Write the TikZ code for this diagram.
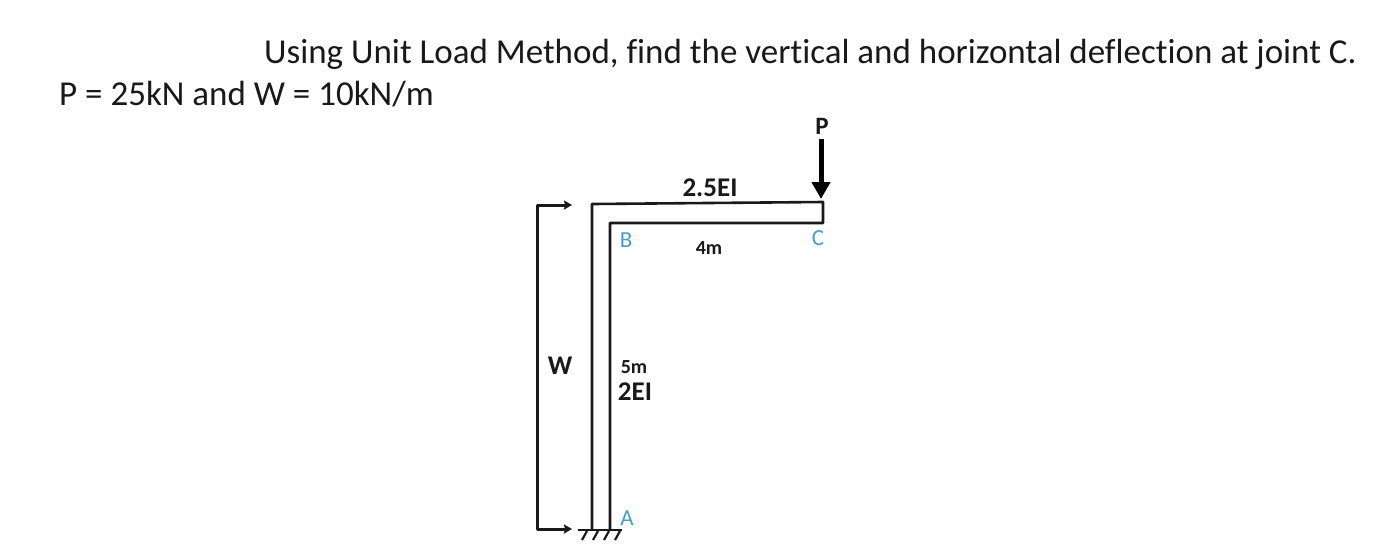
\documentclass[tikz,border=0pt]{standalone}
\usepackage{fontspec}
\setmainfont[Ligatures=CommonOff]{Carlito}
\usetikzlibrary{arrows.meta}
\definecolor{lbl}{RGB}{70,160,195}
\definecolor{ink}{RGB}{25,25,25}
\tikzset{
  frameline/.style={draw=ink,line width=2.6pt,line join=round},
  dimline/.style={draw=ink,line width=3pt,line join=round,{Stealth[length=8pt,width=9pt,inset=1pt]}-{Stealth[length=8pt,width=9pt,inset=1pt]}},
  loadarrow/.style={draw=black,line width=5pt,-{Triangle[length=17pt,width=18pt]},shorten >=0pt},
  hatch/.style={draw=ink,line width=2.2pt},
  prose/.style={inner sep=0pt,anchor=base west,font=\fontsize{35}{38}\selectfont,text=ink},
  joint/.style={inner sep=0pt,text=lbl,font=\fontsize{23}{25}\selectfont},
  boldlabel/.style={inner sep=0pt,text=ink,font=\bfseries\fontsize{27}{29}\selectfont},
  smalllabel/.style={inner sep=0pt,text=ink,font=\bfseries\fontsize{20}{22}\selectfont}
}
\begin{document}
\begin{tikzpicture}[x=1pt,y=-1pt]
\useasboundingbox (0,0) rectangle (1388,550);
\node[prose] (line1) at (264,63) {Using Unit Load Method, find the vertical and horizontal deflection at joint C.};
\node[prose] (line2) at (59,105) {P = 25kN and W = 10kN/m};
\coordinate (oa) at (592,530);
\coordinate (ob) at (592,204);
\coordinate (oc) at (823,202);
\coordinate (ic) at (823,223);
\coordinate (ib) at (610,223);
\coordinate (ia) at (610,530);
\draw[frameline] (oa) -- (ob) -- (oc) -- (ic) -- (ib) -- (ia);
\coordinate (bl) at (578,530);
\coordinate (br) at (622,530);
\draw[frameline] (bl) -- (br);
\foreach \x in {587,598,609,620}
  \draw[hatch] (\x,531) -- (\x-5,540);
\coordinate (t1) at (572,205);
\coordinate (t0) at (537,205);
\coordinate (b0) at (537,529);
\coordinate (b1) at (572,529);
\draw[dimline] (t1) -- (t0) -- (b0) -- (b1);
\node[boldlabel,font=\bfseries\fontsize{25}{27}\selectfont] (p) at (822,126) {P};
\coordinate (ps) at (821,139);
\coordinate (pe) at (821,199);
\draw[loadarrow] (ps) -- (pe);
\node[boldlabel] (ei25) at (710,188) {2.5EI};
\node[smalllabel] (m4) at (709,248) {4m};
\node[joint] (B) at (626,240) {B};
\node[joint] (C) at (818,238) {C};
\node[joint] (A) at (627,518) {A};
\node[boldlabel] (W) at (560,366) {W};
\node[smalllabel] (m5) at (634,367) {5m};
\node[boldlabel] (ei2) at (635,392) {2EI};
\end{tikzpicture}
\end{document}
